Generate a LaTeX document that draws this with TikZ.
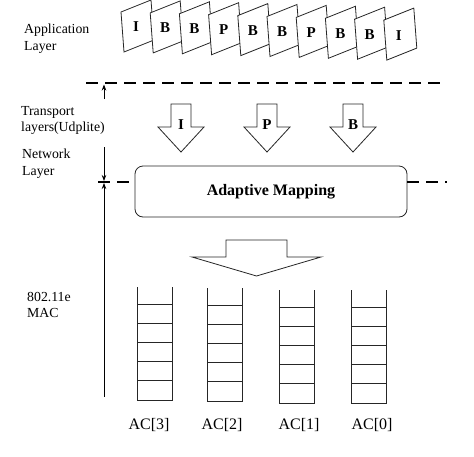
\documentclass[tikz,border=0pt]{standalone}
\usepackage{fontspec}
\setmainfont{Liberation Serif}
\usetikzlibrary{arrows.meta}
\begin{document}
\begin{tikzpicture}[x=1pt,y=-1pt,
	frame/.style = {draw=black!85, fill=white, line width=0.8pt},
	queue/.style = {draw=black!85, line width=0.9pt},
	letter/.style = {font=\bfseries\fontsize{15}{15}\selectfont},
	side/.style = {anchor=north west, align=left, inner sep=0pt, font=\fontsize{13.8}{16.5}\selectfont},
	tick/.style = {-{Stealth[length=6pt,width=4.5pt]}, line width=0.8pt},
	layer/.style = {line width=1.6pt, dash pattern=on 12pt off 7pt}]
	\useasboundingbox (0,0) rectangle (474,456);
	% side labels
	\node [side] (app) at (24,24) {Application\\Layer};
	\node [side] (trans) at (21,106) {Transport\\layers(Udplite)};
	\node [side] (netw) at (22,149) {Network\\Layer};
	\node [side] (mac) at (27,292) {802.11e\\MAC};
	% video frames
	\foreach \t [count=\i from 0] in {I,B,B,P,B,B,P,B,B,I} {
		\pgfmathsetmacro{\fx}{124+29.2*\i}
		\pgfmathsetmacro{\fy}{52+0.9*\i}
		\draw [frame] (\fx,\fy) -- ++(30,-12) -- ++(-3,-40) -- ++(-30,12) -- cycle;
		\node [letter] (f\i) at (\fx+12,\fy-25) {\t};
	}
	% layer borders
	\node [draw=black!85, line width=0.8pt, rounded corners=8pt, minimum width=272pt, minimum height=51pt,
		font=\bfseries\fontsize{16}{16}\selectfont] (map) at (271,191.5) {Adaptive Mapping};
	\coordinate (d1) at (104,84.5);
	\coordinate (up0) at (104,99);
	\coordinate (net) at (104,147);
	\coordinate (d2) at (104,182);
	\coordinate (d2t) at (104,181);
	\coordinate (d2b) at (104,183);
	\coordinate (bot) at (104,397);
	\draw [layer] (86,83) -- (447,83);
	\draw [layer] (98,182) -- (d2 -| map.west);
	\draw [layer] (d2 -| map.east) -- (447,182);
	\draw [tick] (up0) -- (d1);
	\draw [tick] (net) -- (d2t);
	\draw [tick, {Stealth[length=6pt,width=4.5pt]}-] (d2b) -- (bot);
	% packets down to the mapper
	\foreach \ax/\t [count=\i] in {181/I,267/P,353/B} {
		\draw [frame] (\ax-10,104) -- (\ax+10,104) -- (\ax+10,127) -- (\ax+23,127) -- (\ax,152)
			-- (\ax-23,127) -- (\ax-10,127) -- cycle;
		\node [letter] (p\i) at (\ax,125) {\t};
	}
	\draw [frame] (226,240) -- (287,240) -- (287,257) -- (321,257) -- (256.5,276) -- (192,257) -- (226,257) -- cycle;
	% access category queues
	\foreach \qx/\qt/\n/\lx in {137/287/3/149, 207/288/2/222, 279/290/1/299, 351/290/0/372} {
		\draw [queue] (\qx,\qt) -- (\qx,\qt+113) -- (\qx+35,\qt+113) -- (\qx+35,\qt);
		\foreach \k in {0,...,4}
			\draw [queue] (\qx,\qt+17+19.2*\k) -- (\qx+35,\qt+17+19.2*\k);
		\node [font=\fontsize{16}{16}\selectfont] (ac\n) at (\lx,425) {AC[\n]};
	}
\end{tikzpicture}
\end{document}
